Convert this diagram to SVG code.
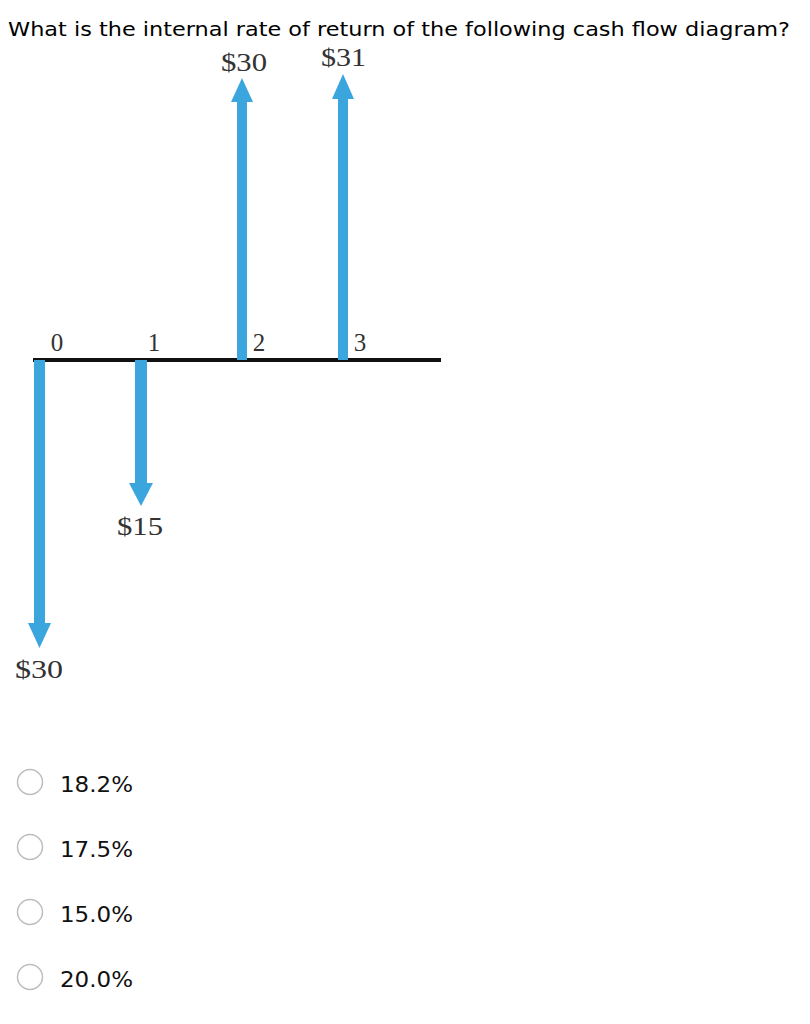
<svg xmlns="http://www.w3.org/2000/svg" width="810" height="1024" viewBox="0 0 810 1024">
<defs>
<style>
.q{font-family:"DejaVu Sans",Verdana,sans-serif;font-size:19.5px;fill:#000}
.t{font-family:"Liberation Serif","Times New Roman",serif;font-size:25px;fill:#333}
.o{font-family:"DejaVu Sans",Verdana,sans-serif;font-size:21px;fill:#111}
.arr{fill:#3ba5de}
.radio{fill:#fff;stroke:#bdbdbd;stroke-width:1.5}
</style>
</defs>
<rect width="810" height="1024" fill="#fff"/>
<text class="q" x="8" y="36" textLength="782" lengthAdjust="spacingAndGlyphs">What is the internal rate of return of the following cash flow diagram?</text>
<g id="connectors">
<line x1="33" y1="360" x2="441" y2="360" stroke="#111" stroke-width="4"/>
</g>
<g id="n0">
<path class="arr" d="M34,360 H45 V623 H51 L39.5,648 L28,623 H34 Z"/>
<text class="t" x="57" y="351" text-anchor="middle">0</text>
<text class="t" x="15" y="678" textLength="48" lengthAdjust="spacingAndGlyphs">$30</text>
</g>
<g id="n1">
<path class="arr" d="M135,360 H147 V483 H153 L141,506 L129,483 H135 Z"/>
<text class="t" x="154" y="351" text-anchor="middle">1</text>
<text class="t" x="117" y="535" textLength="46" lengthAdjust="spacingAndGlyphs">$15</text>
</g>
<g id="n2">
<path class="arr" d="M237,360 H247 V102 H253 L242,78 L231,102 H237 Z"/>
<text class="t" x="259" y="351" text-anchor="middle">2</text>
<text class="t" x="221" y="71" textLength="46" lengthAdjust="spacingAndGlyphs">$30</text>
</g>
<g id="n3">
<path class="arr" d="M338,360 H348 V99 H354 L343,74 L332,99 H338 Z"/>
<text class="t" x="360" y="351" text-anchor="middle">3</text>
<text class="t" x="321" y="66" textLength="45" lengthAdjust="spacingAndGlyphs">$31</text>
</g>
<g id="options">
<circle class="radio" cx="30" cy="782" r="12.5"/>
<text class="o" x="60" y="792" textLength="73" lengthAdjust="spacingAndGlyphs">18.2%</text>
<circle class="radio" cx="30" cy="847" r="12.5"/>
<text class="o" x="60" y="857" textLength="73" lengthAdjust="spacingAndGlyphs">17.5%</text>
<circle class="radio" cx="30" cy="912" r="12.5"/>
<text class="o" x="60" y="922" textLength="73" lengthAdjust="spacingAndGlyphs">15.0%</text>
<circle class="radio" cx="30" cy="977" r="12.5"/>
<text class="o" x="60" y="987" textLength="73" lengthAdjust="spacingAndGlyphs">20.0%</text>
</g>
</svg>
